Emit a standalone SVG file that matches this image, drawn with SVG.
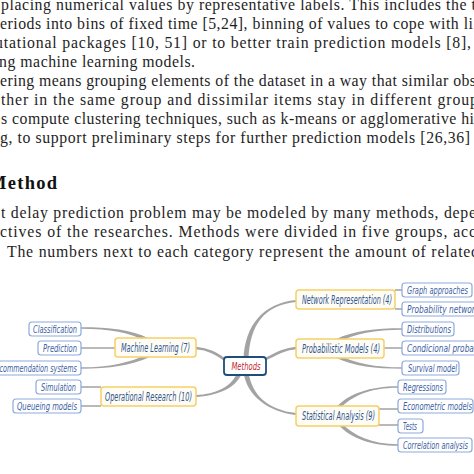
<svg xmlns="http://www.w3.org/2000/svg" width="474" height="474" viewBox="0 0 474 474">
<style>
.body{font-family:"Liberation Serif","DejaVu Serif",serif;font-size:15.8px;fill:#1e1e1e}
.head{font-family:"Liberation Serif","DejaVu Serif",serif;font-size:18.5px;font-weight:bold;fill:#111}
.leaf rect{fill:#ffffff;stroke:#8eaadb;stroke-width:1.2}
.leaf text{font-family:"Liberation Sans Narrow","DejaVu Sans Condensed","Liberation Sans",sans-serif;font-style:italic;font-size:9.8px;fill:#3d62a3;text-anchor:middle}
.cat rect{fill:#fffdf3;stroke:#f5cf6a;stroke-width:1.5}
.cat text{font-family:"Liberation Sans Narrow","DejaVu Sans Condensed","Liberation Sans",sans-serif;font-style:italic;font-size:11.5px;fill:#2e5597;text-anchor:middle}
.root rect{fill:#ffffff;stroke:#1f4e79;stroke-width:1.8}
.root text{font-family:"Liberation Sans Narrow","DejaVu Sans Condensed","Liberation Sans",sans-serif;font-style:italic;font-size:11px;fill:#c0282d;text-anchor:middle}
.tap{fill:#a3a3a3;stroke:none}
.ln{fill:none;stroke:#a3a3a3;stroke-width:1.5}
.th{fill:none;stroke:#a3a3a3;stroke-width:2.5}
</style>
<rect width="474" height="474" fill="#ffffff"/>
<g id="text">
<text class="body" x="1" y="9.5" textLength="475">placing numerical values by representative labels. This includes the t</text>
<text class="body" x="0" y="28.5" textLength="473">eriods into bins of fixed time [5,24], binning of values to cope with li</text>
<text class="body" x="-5" y="47.5" textLength="476">utational packages [10, 51] or to better train prediction models [8],</text>
<text class="body" x="-1" y="66.5" textLength="196">ng machine learning models.</text>
<text class="body" x="0" y="85.5" textLength="476">ering means grouping elements of the dataset in a way that similar obs</text>
<text class="body" x="1" y="104.5" textLength="477">ther in the same group and dissimilar items stay in different group</text>
<text class="body" x="1" y="123.5" textLength="473">s compute clustering techniques, such as k-means or agglomerative hi</text>
<text class="body" x="0" y="142.5" textLength="470">g, to support preliminary steps for further prediction models [26,36]</text>
<text class="head" x="-11" y="189" textLength="68">Method</text>
<text class="body" x="1" y="218" textLength="475">t delay prediction problem may be modeled by many methods, depe</text>
<text class="body" x="0" y="237" textLength="476">ctives of the researches. Methods were divided in five groups, acc</text>
<text class="body" x="7" y="256.5" textLength="472">The numbers next to each category represent the amount of related</text>
</g>
<g id="connectors">
<path class="tap" d="M248.5,360.1 C249.5,325.1 264.1,305 296.1,302 L295.9,300 C263.9,303 244.5,324.9 243.5,359.9 Z"/>
<path class="th" d="M262,361 C276,354 284,349 296,348"/>
<path class="tap" d="M243.52,372.32 C246.52,395.32 267.89,411.99 295.89,414.99 L296.11,413.01 C268.11,410.01 251.48,394.68 248.48,371.68 Z"/>
<path class="th" d="M196,348 C208,349 216,353 228,362"/>
<path class="tap" d="M237.89,371.21 C231.89,387.21 215.95,394 195.95,395 L196.05,397 C216.05,396 236.11,388.79 242.11,372.79 Z"/>
<path class="tap" d="M148.78,338.44 C130.78,329.44 110,327.25 81,327.25 L81,328.75 C110,328.75 129.22,332.56 147.22,341.56 Z"/>
<path class="ln" d="M81,348 H115"/>
<path class="tap" d="M147.29,354.4 C129.29,362.4 110,367.25 81,367.25 L81,368.75 C110,368.75 130.71,365.6 148.71,357.6 Z"/>
<path class="ln" d="M81,387 H101 M81,406 H101"/>
<path class="ln" d="M395,290 H402 M395,309 H402"/>
<path class="tap" d="M336.75,342.58 C355.75,333.58 375,329.75 402,329.75 L402,328.25 C375,328.25 354.25,330.42 335.25,339.42 Z"/>
<path class="ln" d="M384,348 H402"/>
<path class="tap" d="M335.25,357.58 C354.25,366.58 375,368.75 402,368.75 L402,367.25 C375,367.25 355.75,363.42 336.75,354.42 Z"/>
<path class="tap" d="M339.29,409.19 C351.29,396.19 370,387.75 398,387.75 L398,386.25 C370,386.25 348.71,393.81 336.71,406.81 Z"/>
<path class="ln" d="M379,409 H398 M379,425 H398"/>
<path class="tap" d="M338.71,425.19 C350.71,438.19 372,445.75 398,445.75 L398,444.25 C372,444.25 353.29,435.81 341.29,422.81 Z"/>
</g>
<g id="methods" class="root"><rect x="224" y="357" width="42" height="18" rx="3"/><text x="246" y="369.8" textLength="29" lengthAdjust="spacingAndGlyphs">Methods</text></g>
<g id="machine-learning" class="cat"><rect x="115" y="338" width="81" height="19" rx="3"/><text x="155.5" y="351.8" textLength="69" lengthAdjust="spacingAndGlyphs">Machine Learning (7)</text></g>
<g id="operational-research" class="cat"><rect x="101" y="387" width="95" height="19" rx="3"/><text x="148.5" y="400.8" textLength="87" lengthAdjust="spacingAndGlyphs">Operational Research (10)</text></g>
<g id="network-representation" class="cat"><rect x="296" y="290" width="99" height="19" rx="3"/><text x="347" y="303.8" textLength="90" lengthAdjust="spacingAndGlyphs">Network Representation (4)</text></g>
<g id="probabilistic-models" class="cat"><rect x="296" y="339" width="88" height="19" rx="3"/><text x="341" y="352.8" textLength="78" lengthAdjust="spacingAndGlyphs">Probabilistic Models (4)</text></g>
<g id="statistical-analysis" class="cat"><rect x="296" y="406" width="83" height="20" rx="3"/><text x="338.5" y="420.3" textLength="73" lengthAdjust="spacingAndGlyphs">Statistical Analysis (9)</text></g>
<g id="classification" class="leaf"><rect x="29" y="322" width="52" height="14" rx="3"/><text x="55" y="332.6" textLength="44" lengthAdjust="spacingAndGlyphs">Classification</text></g>
<g id="prediction" class="leaf"><rect x="38" y="341" width="43" height="14" rx="3"/><text x="60" y="351.6" textLength="34" lengthAdjust="spacingAndGlyphs">Prediction</text></g>
<g id="recommendation-systems" class="leaf"><rect x="-14" y="361" width="95" height="14" rx="3"/><text x="34" y="371.6" textLength="86" lengthAdjust="spacingAndGlyphs">Recommendation systems</text></g>
<g id="simulation" class="leaf"><rect x="36" y="380" width="45" height="14" rx="3"/><text x="58.5" y="390.6" textLength="35" lengthAdjust="spacingAndGlyphs">Simulation</text></g>
<g id="queueing-models" class="leaf"><rect x="13" y="399" width="68" height="14" rx="3"/><text x="47" y="409.6" textLength="60" lengthAdjust="spacingAndGlyphs">Queueing models</text></g>
<g id="graph-approaches" class="leaf"><rect x="402" y="283" width="70" height="14" rx="3"/><text x="437.5" y="293.6" textLength="61" lengthAdjust="spacingAndGlyphs">Graph approaches</text></g>
<g id="probability-networks" class="leaf"><rect x="402" y="302" width="86" height="14" rx="3"/><text x="445" y="312.6" textLength="76" lengthAdjust="spacingAndGlyphs">Probability networks</text></g>
<g id="distributions" class="leaf"><rect x="402" y="322" width="52" height="14" rx="3"/><text x="429" y="332.6" textLength="44" lengthAdjust="spacingAndGlyphs">Distributions</text></g>
<g id="condicional-probability" class="leaf"><rect x="402" y="341" width="92" height="14" rx="3"/><text x="449.5" y="351.6" textLength="85" lengthAdjust="spacingAndGlyphs">Condicional probability</text></g>
<g id="survival-model" class="leaf"><rect x="402" y="361" width="57" height="14" rx="3"/><text x="432.5" y="371.6" textLength="49" lengthAdjust="spacingAndGlyphs">Survival model</text></g>
<g id="regressions" class="leaf"><rect x="398" y="380" width="48" height="14" rx="3"/><text x="423" y="390.6" textLength="40" lengthAdjust="spacingAndGlyphs">Regressions</text></g>
<g id="econometric-models" class="leaf"><rect x="398" y="399" width="75" height="14" rx="3"/><text x="437.5" y="409.6" textLength="69" lengthAdjust="spacingAndGlyphs">Econometric models</text></g>
<g id="tests" class="leaf"><rect x="398" y="419" width="25" height="14" rx="3"/><text x="410" y="429.6" textLength="14" lengthAdjust="spacingAndGlyphs">Tests</text></g>
<g id="correlation-analysis" class="leaf"><rect x="398" y="438" width="74" height="14" rx="3"/><text x="435.5" y="448.6" textLength="65" lengthAdjust="spacingAndGlyphs">Correlation analysis</text></g>
</svg>
